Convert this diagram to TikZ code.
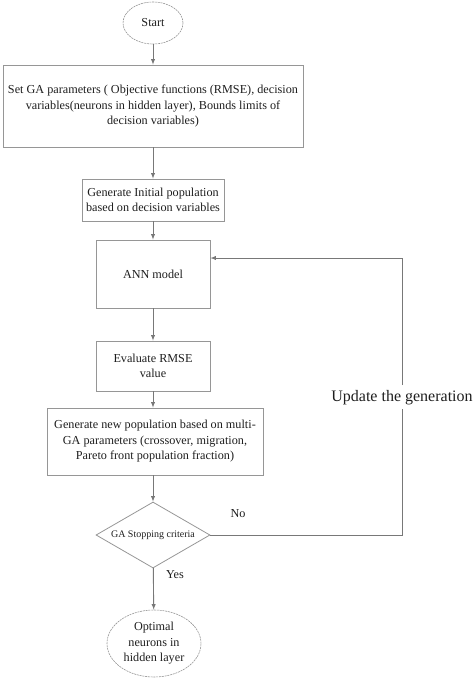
\documentclass[tikz,border=0pt]{standalone}
\usepackage{fontspec}
\setmainfont{Liberation Serif}
\usetikzlibrary{shapes.geometric}
\tikzset{>=latex}
\definecolor{edge}{RGB}{120,120,120}
\definecolor{frame}{RGB}{150,150,150}
\definecolor{ink}{RGB}{30,30,30}
\tikzset{
    txt/.style = {text = ink, font = \fontsize{12.2}{15.5}\selectfont, align = center, inner sep = 0pt},
    procbox/.style = {txt, draw = frame, line width = 0.8pt, rectangle},
    term/.style = {txt, draw = frame, line width = 0.6pt, ellipse, dash pattern = on 2pt off 0.8pt, inner sep = 0pt},
    flow/.style = {->, draw = edge, line width = 0.9pt}
}

\begin{document}
\begin{tikzpicture}[x = 1pt, y = 1pt]
            \useasboundingbox (0, 0) rectangle (474, -681);
            % terminals
            \node[term, minimum width = 60pt, minimum height = 42pt] (start) at (153, -23) {Start};
            \node[term, minimum width = 94pt, minimum height = 67pt] (optimal) at (154, -643.5) {Optimal\\neurons in\\hidden layer};
            % process boxes
            \node[procbox, minimum width = 300pt, minimum height = 82pt] (setga) at (153, -106)
                {Set GA parameters ( Objective functions (RMSE), decision\\variables(neurons in hidden layer), Bounds limits of\\decision variables)};
            \node[procbox, minimum width = 142pt, minimum height = 42pt] (initpop) at (153, -200)
                {Generate Initial population\\based on decision variables};
            \node[procbox, minimum width = 114pt, minimum height = 68pt] (ann) at (153, -274) {ANN model};
            \node[procbox, minimum width = 114pt, minimum height = 50pt] (rmse) at (153, -366) {Evaluate RMSE\\value};
            \node[procbox, minimum width = 216pt, minimum height = 67pt] (newpop) at (155, -441.5)
                {Generate new population based on multi-\\GA parameters (crossover, migration,\\Pareto front population fraction)};
            % decision
            \node[diamond, draw = frame, line width = 0.8pt, inner sep = 0pt, aspect = 1.73,
                  minimum width = 114pt, minimum height = 66pt] (stop) at (153, -535)
                {\makebox[0pt]{\fontsize{10}{12}\selectfont\color{ink}GA Stopping criteria}};
            % labels
            \node[txt] (no) at (238, -514) {No};
            \node[txt] (yes) at (175, -575) {Yes};
            \node[txt, font = \fontsize{16}{19}\selectfont] (update) at (402, -398) {Update the generation};
            \coordinate (uplow) at (402, -409);
            \coordinate (uphigh) at (402, -385);
            % main flow
            \draw[flow] (start) -- (setga);
            \draw[flow] (setga) -- (initpop);
            \draw[flow] (initpop) -- (ann);
            \draw[flow] (ann) -- (rmse);
            \draw[flow] (rmse) -- (newpop.north -| rmse.south);
            \draw[flow] (newpop.south -| stop.north) -- (stop);
            \draw[flow] (stop) -- (optimal);
            % loop back
            \draw[draw = edge, line width = 0.9pt] (stop.east) -| (uplow);
            \draw[flow] (uphigh) |- ([yshift = 16pt]ann.east);
        \end{tikzpicture}
\end{document}
